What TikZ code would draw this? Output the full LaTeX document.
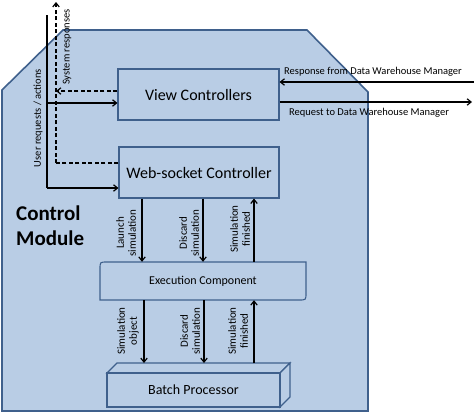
\documentclass[tikz,border=0pt]{standalone}
\usepackage{fontspec}
\setmainfont{Carlito}
\usetikzlibrary{arrows.meta}
\definecolor{bgblue}{HTML}{B9CDE5}
\definecolor{edgeblue}{HTML}{3F608C}
\begin{document}
\begin{tikzpicture}[x=1pt,y=-1pt,
  box/.style={draw=edgeblue,line width=1.1pt,fill=bgblue,inner sep=0pt},
  arr/.style={line width=1.2pt,-{Straight Barb[length=4pt,width=6.5pt]}},
  darr/.style={arr,dash pattern=on 4pt off 2.5pt},
  dline/.style={line width=1.2pt,dash pattern=on 4pt off 2.5pt},
  small/.style={font=\fontsize{10.5}{11.5}\selectfont,inner sep=0pt},
  vlab/.style={font=\fontsize{11}{12}\selectfont,inner sep=0pt,rotate=90,align=center},
  big/.style={font=\fontsize{16}{18}\selectfont}]
\useasboundingbox (0,0) rectangle (474,413);
% control module outline
\draw[draw=edgeblue,line width=1.6pt,fill=bgblue] (2,90) -- (63,30) -- (307,30) -- (368,92) -- (368,411) -- (2,411) -- cycle;
\node[font=\fontsize{21}{25}\selectfont\bfseries,align=left,anchor=north west,inner sep=0pt] (cm) at (16,206) {Control\\Module};

% boxes
\node[box,big,minimum width=161pt,minimum height=51pt] (vc) at (198.5,94.5) {View Controllers};
\node[box,big,minimum width=160pt,minimum height=51pt] (ws) at (199,172.5) {Web-socket Controller};
% execution component
\draw[draw=edgeblue,line width=1.1pt,fill=bgblue] (100,300) -- (100,269) .. controls (100,262) .. (107,262) -- (306,262) -- (306,293) .. controls (306,300) .. (299,300) -- cycle;
\node[font=\fontsize{12}{14}\selectfont,minimum width=206pt,minimum height=38pt,inner sep=0pt] (ex) at (203,281) {Execution Component};
% batch processor
\draw[draw=edgeblue,line width=1.1pt,fill=bgblue] (107,373) -- (117,363) -- (290,363) -- (280,373) -- cycle;
\draw[draw=edgeblue,line width=1.1pt,fill=bgblue] (280,373) -- (290,363) -- (290,397) -- (280,407) -- cycle;
\node[box,font=\fontsize{14}{16}\selectfont,minimum width=173pt,minimum height=34pt] (bp) at (193.5,390) {Batch Processor};
\coordinate (bptop) at (193.5,363);

% x positions
\coordinate (xa) at (142,0);
\coordinate (xb) at (203,0);
\coordinate (xc) at (254,0);
\coordinate (xd) at (144,0);
\coordinate (xe) at (204,0);

% vertical arrows between components
\draw[arr] (ws.south -| xa) -- (ex.north -| xa);
\draw[arr] (ws.south -| xb) -- (ex.north -| xb);
\draw[arr] (ex.north -| xc) -- (ws.south -| xc);
\draw[arr] (ex.south -| xd) -- (bptop -| xd);
\draw[arr] (ex.south -| xe) -- (bptop -| xe);
\draw[arr] (bptop -| xc) -- (ex.south -| xc);

\node[vlab] (l1) at (126,233) {Launch\\simulation};
\node[vlab] (l2) at (189,233) {Discard\\simulation};
\node[vlab] (l3) at (240,229) {Simulation\\finished};
\node[vlab] (l4) at (128,331) {Simulation\\object};
\node[vlab] (l5) at (190,331) {Discard\\simulation};
\node[vlab] (l6) at (238,331) {Simulation\\finished};

% user requests
\coordinate (utop) at (47,15);
\coordinate (ucor) at (47,188);
\coordinate (ubr) at (47,103);
\draw[line width=1.2pt] (utop) -- (ucor);
\draw[arr] (ucor) -- (ws.west |- ucor);
\draw[arr] (ubr) -- (vc.west |- ubr);
\node[small,rotate=90] (ul) at (38,118) {User requests / actions};

% system responses
\coordinate (stop) at (56,2);
\coordinate (scor) at (56,163);
\coordinate (sbr) at (56,91);
\draw[dline] (ws.west |- scor) -- (scor);
\draw[darr] (scor) -- (stop);
\draw[darr] (vc.west |- sbr) -- (sbr);
\node[small,rotate=90] (sl) at (67,47) {System responses};

% data warehouse
\coordinate (rin) at (474,82);
\coordinate (rout) at (472,102);
\draw[arr] (rin) -- (vc.east |- rin);
\draw[arr] (vc.east |- rout) -- (rout);
\node[small,anchor=west] (rl1) at (284,72) {Response from Data Warehouse Manager};
\node[small,anchor=west] (rl2) at (289,113) {Request to Data Warehouse Manager};
\end{tikzpicture}
\end{document}
